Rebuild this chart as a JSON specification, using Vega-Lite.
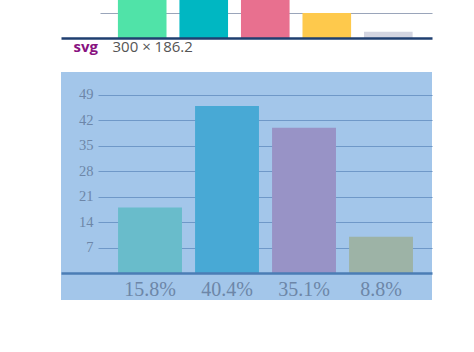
{
  "$schema": "https://vega.github.io/schema/vega-lite/v6.json",
  "padding": {"left": 61, "top": 0, "right": 0, "bottom": 0},
  "bounds": "flush",
  "spacing": 34,
  "config": {"view": {"stroke": null}},
  "resolve": {"scale": {"color": "independent", "x": "independent", "y": "independent"}},
  "vconcat": [
    {
      "width": 371,
      "height": 38,
      "data": {"values": [
        {"k": "A", "v": 50},
        {"k": "B", "v": 50},
        {"k": "C", "v": 50},
        {"k": "D", "v": 20},
        {"k": "E", "v": 5}
      ]},
      "mark": {"type": "bar", "clip": true},
      "encoding": {
        "x": {"field": "k", "type": "nominal", "sort": null,
          "scale": {"paddingInner": 0.21, "paddingOuter": 0.62, "align": 0.746},
          "axis": {"labels": false, "ticks": false, "title": null, "domainColor": "#1f3f70", "domainWidth": 2.5, "zindex": 1}},
        "y": {"field": "v", "type": "quantitative",
          "scale": {"domain": [0, 30.4], "nice": false, "zero": false},
          "axis": {"orient": "right", "labels": false, "domain": false, "grid": false, "tickSize": -332, "tickColor": "#9aa5ba", "tickWidth": 1.2, "values": [20], "title": null, "zindex": 0}},
        "color": {"field": "k", "type": "nominal",
          "scale": {"domain": ["A", "B", "C", "D", "E"], "range": ["#50e3a8", "#00b7c2", "#e8708f", "#fec94c", "#d3d5e1"]},
          "legend": null}
      }
    },
    {
      "width": 371,
      "height": 228,
      "view": {"fill": "#a3c6ea", "stroke": null},
      "data": {"values": [
        {"label": "15.8%", "value": 18},
        {"label": "40.4%", "value": 46},
        {"label": "35.1%", "value": 40},
        {"label": "8.8%", "value": 10}
      ]},
      "resolve": {"axis": {"y": "independent"}},
      "layer": [
        {
          "mark": {"type": "bar"},
          "encoding": {
            "x": {"field": "label", "type": "nominal", "sort": null,
              "scale": {"paddingInner": 0.17, "paddingOuter": 0.494, "align": 0.75},
              "axis": {"orient": "bottom", "offset": -27, "ticks": false, "title": null, "labelAngle": 0,
                "domainColor": "#4b7db5", "domainWidth": 2.5, "labelFont": "Liberation Serif", "labelFontSize": 20,
                "labelColor": "#6d86a8", "labelPadding": 6, "zindex": 1}},
            "y": {"field": "value", "type": "quantitative",
              "scale": {"domain": [-7.43, 55.33], "nice": false, "zero": false},
              "axis": {"orient": "left", "offset": -32, "ticks": false, "domain": false, "grid": false,
                "values": [7, 14, 21, 28, 35, 42, 49], "labelPadding": 0, "labelFont": "Liberation Serif",
                "labelFontSize": 14.5, "labelColor": "#6d86a8",
                "title": "svg", "titleAngle": 0, "titleX": -20, "titleY": -21, "titleAlign": "left",
                "titleBaseline": "alphabetic", "titleFont": "Open Sans", "titleFontSize": 15,
                "titleFontWeight": "bold", "titleColor": "#881280"}},
            "color": {"field": "label", "type": "nominal", "sort": null,
              "scale": {"domain": ["15.8%", "40.4%", "35.1%", "8.8%"], "range": ["#69bccb", "#48a9d5", "#9893c6", "#9db3a6"]},
              "legend": null}
          }
        },
        {
          "mark": {"type": "bar", "opacity": 0},
          "encoding": {
            "x": {"field": "label", "type": "nominal", "sort": null},
            "y": {"field": "value", "type": "quantitative",
              "axis": {"orient": "right", "labels": false, "domain": false, "grid": false,
                "values": [7, 14, 21, 28, 35, 42, 49], "tickSize": -334, "tickColor": "#6f98c8", "tickWidth": 1.2,
                "zindex": 0,
                "title": "300 × 186.2", "titleAngle": 0, "titleX": -320, "titleY": -21, "titleAlign": "left",
                "titleBaseline": "alphabetic", "titleFont": "Open Sans", "titleFontSize": 15,
                "titleFontWeight": "normal", "titleColor": "#555555"}}
          }
        }
      ]
    }
  ]
}
